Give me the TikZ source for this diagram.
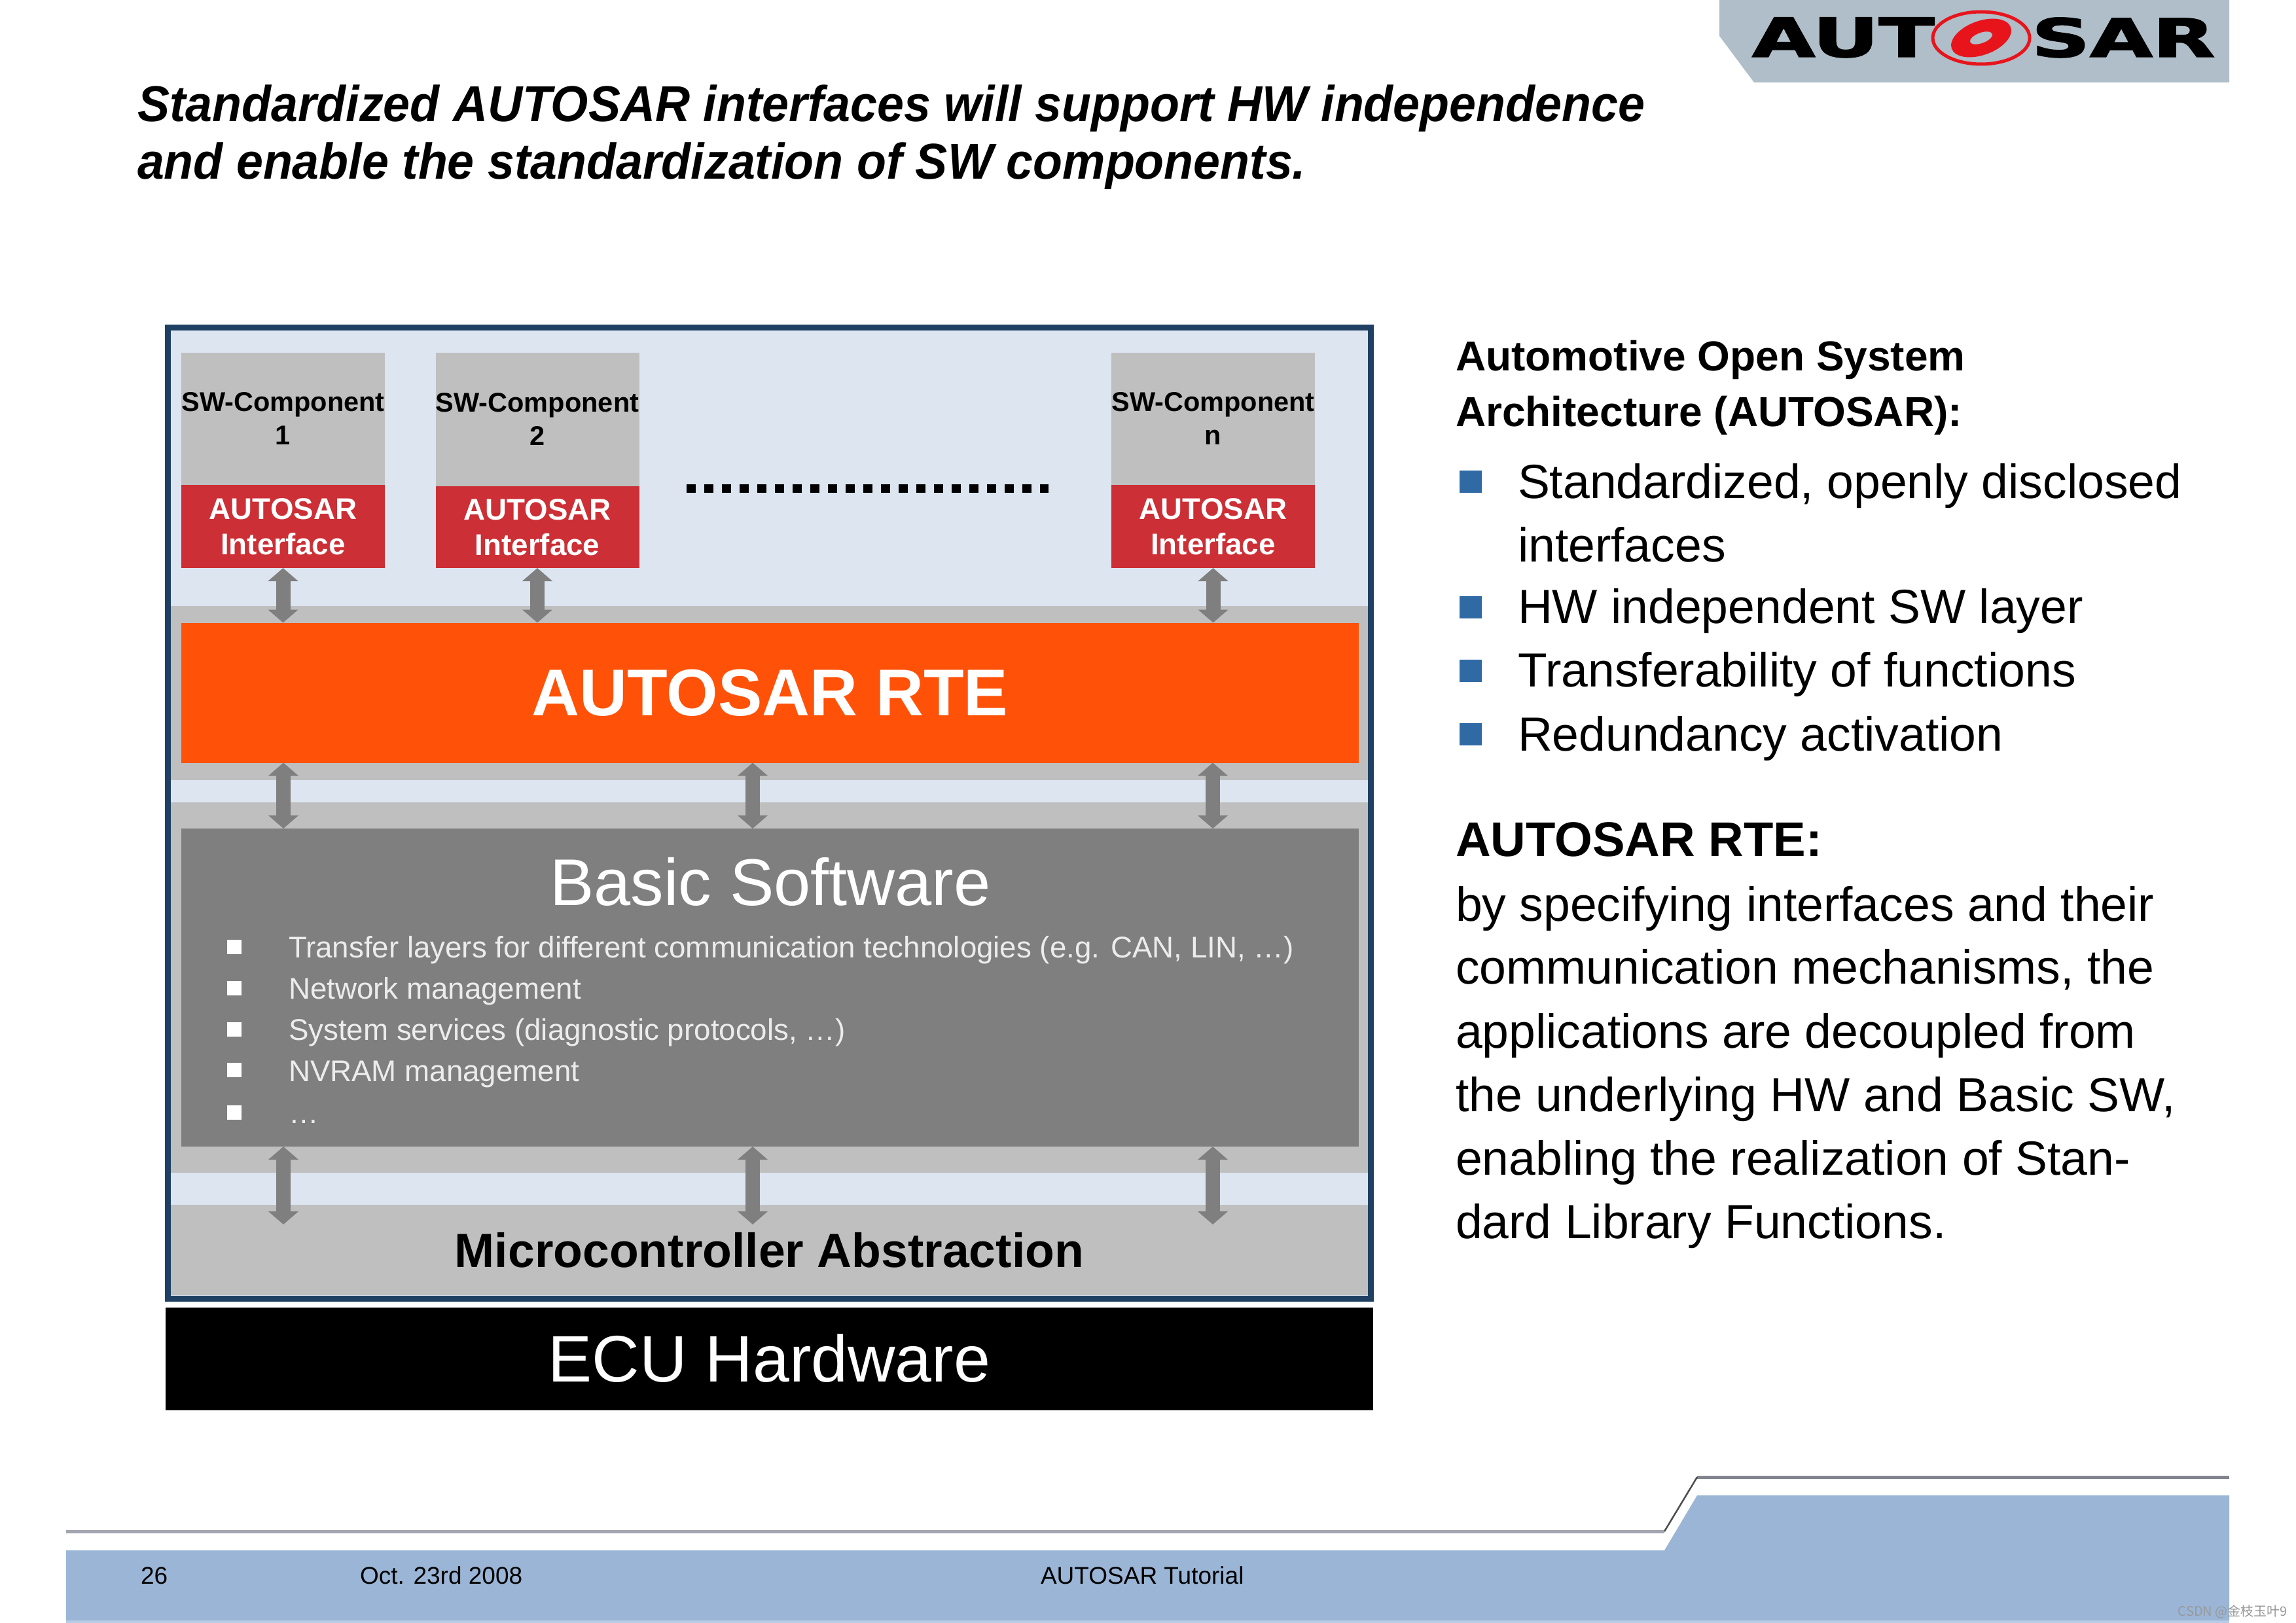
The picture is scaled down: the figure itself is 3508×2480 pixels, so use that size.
\documentclass[tikz,border=0pt]{standalone}
\usepackage{fontspec}
\usepackage{graphicx}
\setmainfont{Liberation Sans}
\newfontfamily\cjkwm{Noto Sans CJK SC}
\newfontfamily\logofont[FakeBold=2]{DejaVu Sans}
\newfontfamily\titlefont[FakeStretch=0.955]{Liberation Sans}
\usetikzlibrary{arrows.meta}
\definecolor{framecol}{HTML}{1F4063}
\definecolor{lightfill}{HTML}{DCE5F0}
\definecolor{bandgray}{HTML}{BFBFBF}
\definecolor{rteorange}{HTML}{FF5208}
\definecolor{ifred}{HTML}{CC2F35}
\definecolor{darkgray}{HTML}{7F7F7F}
\definecolor{bulletblue}{HTML}{2F6AA5}
\definecolor{footblue}{HTML}{9AB5D6}
\definecolor{footedge}{HTML}{B8CDE5}
\definecolor{footline}{HTML}{A3A6B0}
\definecolor{logogray}{HTML}{AFBEC8}
\definecolor{logored}{HTML}{E8141C}
\definecolor{listtext}{HTML}{ECECEC}
\newcommand\fsz[2]{\fontsize{#1}{#2}\selectfont}
\tikzset{
  x=1pt,y=-1pt,
  boxnode/.style={inner sep=0pt,outer sep=0pt,minimum width=#1},
  txt/.style={inner sep=0pt,outer sep=0pt,anchor=base west},
  swbox/.style={boxnode=311pt,fill=bandgray,align=center,font=\fsz{41.5}{51}\bfseries,text=black},
  ifbox/.style={boxnode=311pt,fill=ifred,align=center,font=\fsz{45.7}{54}\bfseries,text=white},
  biarrow/.style={draw=darkgray,line width=22pt,{Triangle[width=45pt,length=20pt]}-{Triangle[width=45pt,length=20pt]}},
  titletxt/.style={txt,font=\titlefont\fsz{77}{90}\bfseries\itshape},
  headtxt/.style={txt,font=\fsz{64}{80}\bfseries},
  bodytxt/.style={txt,font=\fsz{73.3}{90}},
  listtxt/.style={txt,font=\fsz{45.7}{60},text=listtext},
  foottxt/.style={txt,font=\fsz{37}{46}},
  bluesq/.style={fill=bulletblue,inner sep=0pt,minimum size=34pt},
  whitesq/.style={fill=white,inner sep=0pt,minimum size=22pt},
}
\begin{document}
\begin{tikzpicture}
\useasboundingbox (0,0) rectangle (3508,2480);
% logo
\fill[logogray] (2627,0) -- (3406,0) -- (3406,126) -- (2680,126) -- (2627,55) -- cycle;
\node[inner sep=0pt,outer sep=0pt,anchor=south west] (logoa) at (2677,88) {\resizebox{278pt}{60pt}{\logofont\bfseries AUT}};
\node[inner sep=0pt,outer sep=0pt,anchor=south west] (logob) at (3104,88) {\resizebox{280pt}{60pt}{\logofont\bfseries SAR}};
\draw[logored,line width=5pt] (3027,58) ellipse [x radius=74,y radius=40];
\fill[logored,even odd rule,rotate around={20:(3027,58)}] (3027,58) ellipse [x radius=48,y radius=26] (3027,58) ellipse [x radius=18,y radius=8];
% title
\node[titletxt] (title1) at (210,186) {Standardized AUTOSAR interfaces will support HW independence};
\node[titletxt] (title2) at (210,274) {and enable the standardization of SW components.};
% frame
\fill[lightfill] (252,496) rectangle (2098,1989);
\fill[bandgray] (257,926) rectangle (2094,1192);
\fill[bandgray] (257,1226) rectangle (2094,1792);
\node[boxnode=1837pt,minimum height=138pt,fill=bandgray,font=\fsz{73.3}{80}\bfseries] (micro) at (1175.5,1910) {Microcontroller Abstraction};
\draw[framecol,line width=9pt] (256.5,500.5) rectangle (2094,1984.5);
% components
\node[swbox,minimum height=202pt] (sw1) at (432.5,640) {SW-Component\\1};
\node[swbox,minimum height=204pt] (sw2) at (821,641) {SW-Component\\2};
\node[swbox,minimum height=202pt] (swn) at (1853.5,640) {SW-Component\\n};
\node[ifbox,minimum height=127pt] (if1) at (432.5,804.5) {AUTOSAR\\Interface};
\node[ifbox,minimum height=125pt] (if2) at (821,805.5) {AUTOSAR\\Interface};
\node[ifbox,minimum height=127pt] (ifn) at (1853.5,804.5) {AUTOSAR\\Interface};
\coordinate (dotsa) at (1049,746);
\coordinate (dotsb) at (1602,746);
\draw[black,line width=13pt,dash pattern=on 14pt off 13pt] (dotsa) -- (dotsb);
\node[boxnode=1799pt,minimum height=214pt,fill=rteorange,text=white,font=\fsz{101}{110}\bfseries] (rte) at (1176.5,1058.5) {AUTOSAR RTE};
\node[boxnode=1799pt,minimum height=486pt,fill=darkgray] (bsw) at (1176.5,1509) {};
\node[inner sep=0pt,text=white,font=\fsz{101}{110},anchor=base] (bswt) at (1177,1383) {Basic Software};
\node[boxnode=1845pt,minimum height=157pt,fill=black,text=white,font=\fsz{100.5}{110}] (ecu) at (1175.5,2076) {ECU Hardware};
% list
\node[whitesq] (ws1) at (358,1447) {};
\node[whitesq] (ws2) at (358,1510) {};
\node[whitesq] (ws3) at (358,1573) {};
\node[whitesq] (ws4) at (358,1635) {};
\node[whitesq] (ws5) at (358,1700) {};
\node[listtxt] (l1) at (441,1463) {Transfer layers for different communication technologies (e.g. CAN, LIN, \ldots)};
\node[listtxt] (l2) at (441,1526) {Network management};
\node[listtxt] (l3) at (441,1589) {System services (diagnostic protocols, \ldots)};
\node[listtxt] (l4) at (441,1652) {NVRAM management};
\node[listtxt] (l5) at (441,1716) {\ldots};
% arrows
\coordinate (ax1) at (433,0);
\coordinate (ax2) at (1150,0);
\coordinate (ax3) at (1853,0);
\coordinate (end1) at (433,1871);
\coordinate (end2) at (1150,1871);
\coordinate (end3) at (1853,1871);
\draw[biarrow] (if1.south) -- (if1.south |- rte.north);
\draw[biarrow] (if2.south) -- (if2.south |- rte.north);
\draw[biarrow] (ifn.south) -- (ifn.south |- rte.north);
\draw[biarrow] (ax1 |- rte.south) -- (ax1 |- bsw.north);
\draw[biarrow] (ax2 |- rte.south) -- (ax2 |- bsw.north);
\draw[biarrow] (ax3 |- rte.south) -- (ax3 |- bsw.north);
\draw[biarrow] (ax1 |- bsw.south) -- (end1);
\draw[biarrow] (ax2 |- bsw.south) -- (end2);
\draw[biarrow] (ax3 |- bsw.south) -- (end3);
% right column
\node[headtxt] (h1) at (2224,566) {Automotive Open System};
\node[headtxt] (h2) at (2224,651) {Architecture (AUTOSAR):};
\node[bluesq] (s1) at (2247,736) {};
\node[bluesq] (s2) at (2247,928) {};
\node[bluesq] (s3) at (2247,1025) {};
\node[bluesq] (s4) at (2247,1122) {};
\node[bodytxt] (r1) at (2319,761) {Standardized, openly disclosed};
\node[bodytxt] (r2) at (2319,858) {interfaces};
\node[bodytxt] (r3) at (2319,952) {HW independent SW layer};
\node[bodytxt] (r4) at (2319,1049) {Transferability of functions};
\node[bodytxt] (r5) at (2319,1147) {Redundancy activation};
\node[txt,font=\fsz{74.3}{90}\bfseries] (h3) at (2224,1308) {AUTOSAR RTE:};
\node[bodytxt] (p1) at (2224,1407) {by specifying interfaces and their};
\node[bodytxt] (p2) at (2224,1503) {communication mechanisms, the};
\node[bodytxt] (p3) at (2224,1601) {applications are decoupled from};
\node[bodytxt] (p4) at (2224,1698) {the underlying HW and Basic SW,};
\node[bodytxt] (p5) at (2224,1795) {enabling the realization of Stan-};
\node[bodytxt] (p6) at (2224,1892) {dard Library Functions.};
% footer
\fill[footedge] (101,2470) rectangle (3406,2480);
\fill[footblue] (101,2369) -- (2543,2369) -- (2593,2285) -- (3406,2285) -- (3406,2476) -- (101,2476) -- cycle;
\draw[footline,line width=5pt] (101,2340) -- (2543,2340);
\draw[footline!80!black,line width=5pt] (2593,2257) -- (3406,2257);
\draw[black!70,line width=2.5pt] (2543,2340) -- (2593,2257);
\node[foottxt] (f1) at (215,2420) {26};
\node[foottxt] (f2) at (550,2420) {Oct. 23rd 2008};
\node[foottxt] (f3) at (1590,2420) {AUTOSAR Tutorial};
\node[inner sep=0pt,anchor=base east,text=black!40,font=\fsz{20}{26}\cjkwm] (wm) at (3495,2469) {CSDN @金枝玉叶9};
\end{tikzpicture}
\end{document}
